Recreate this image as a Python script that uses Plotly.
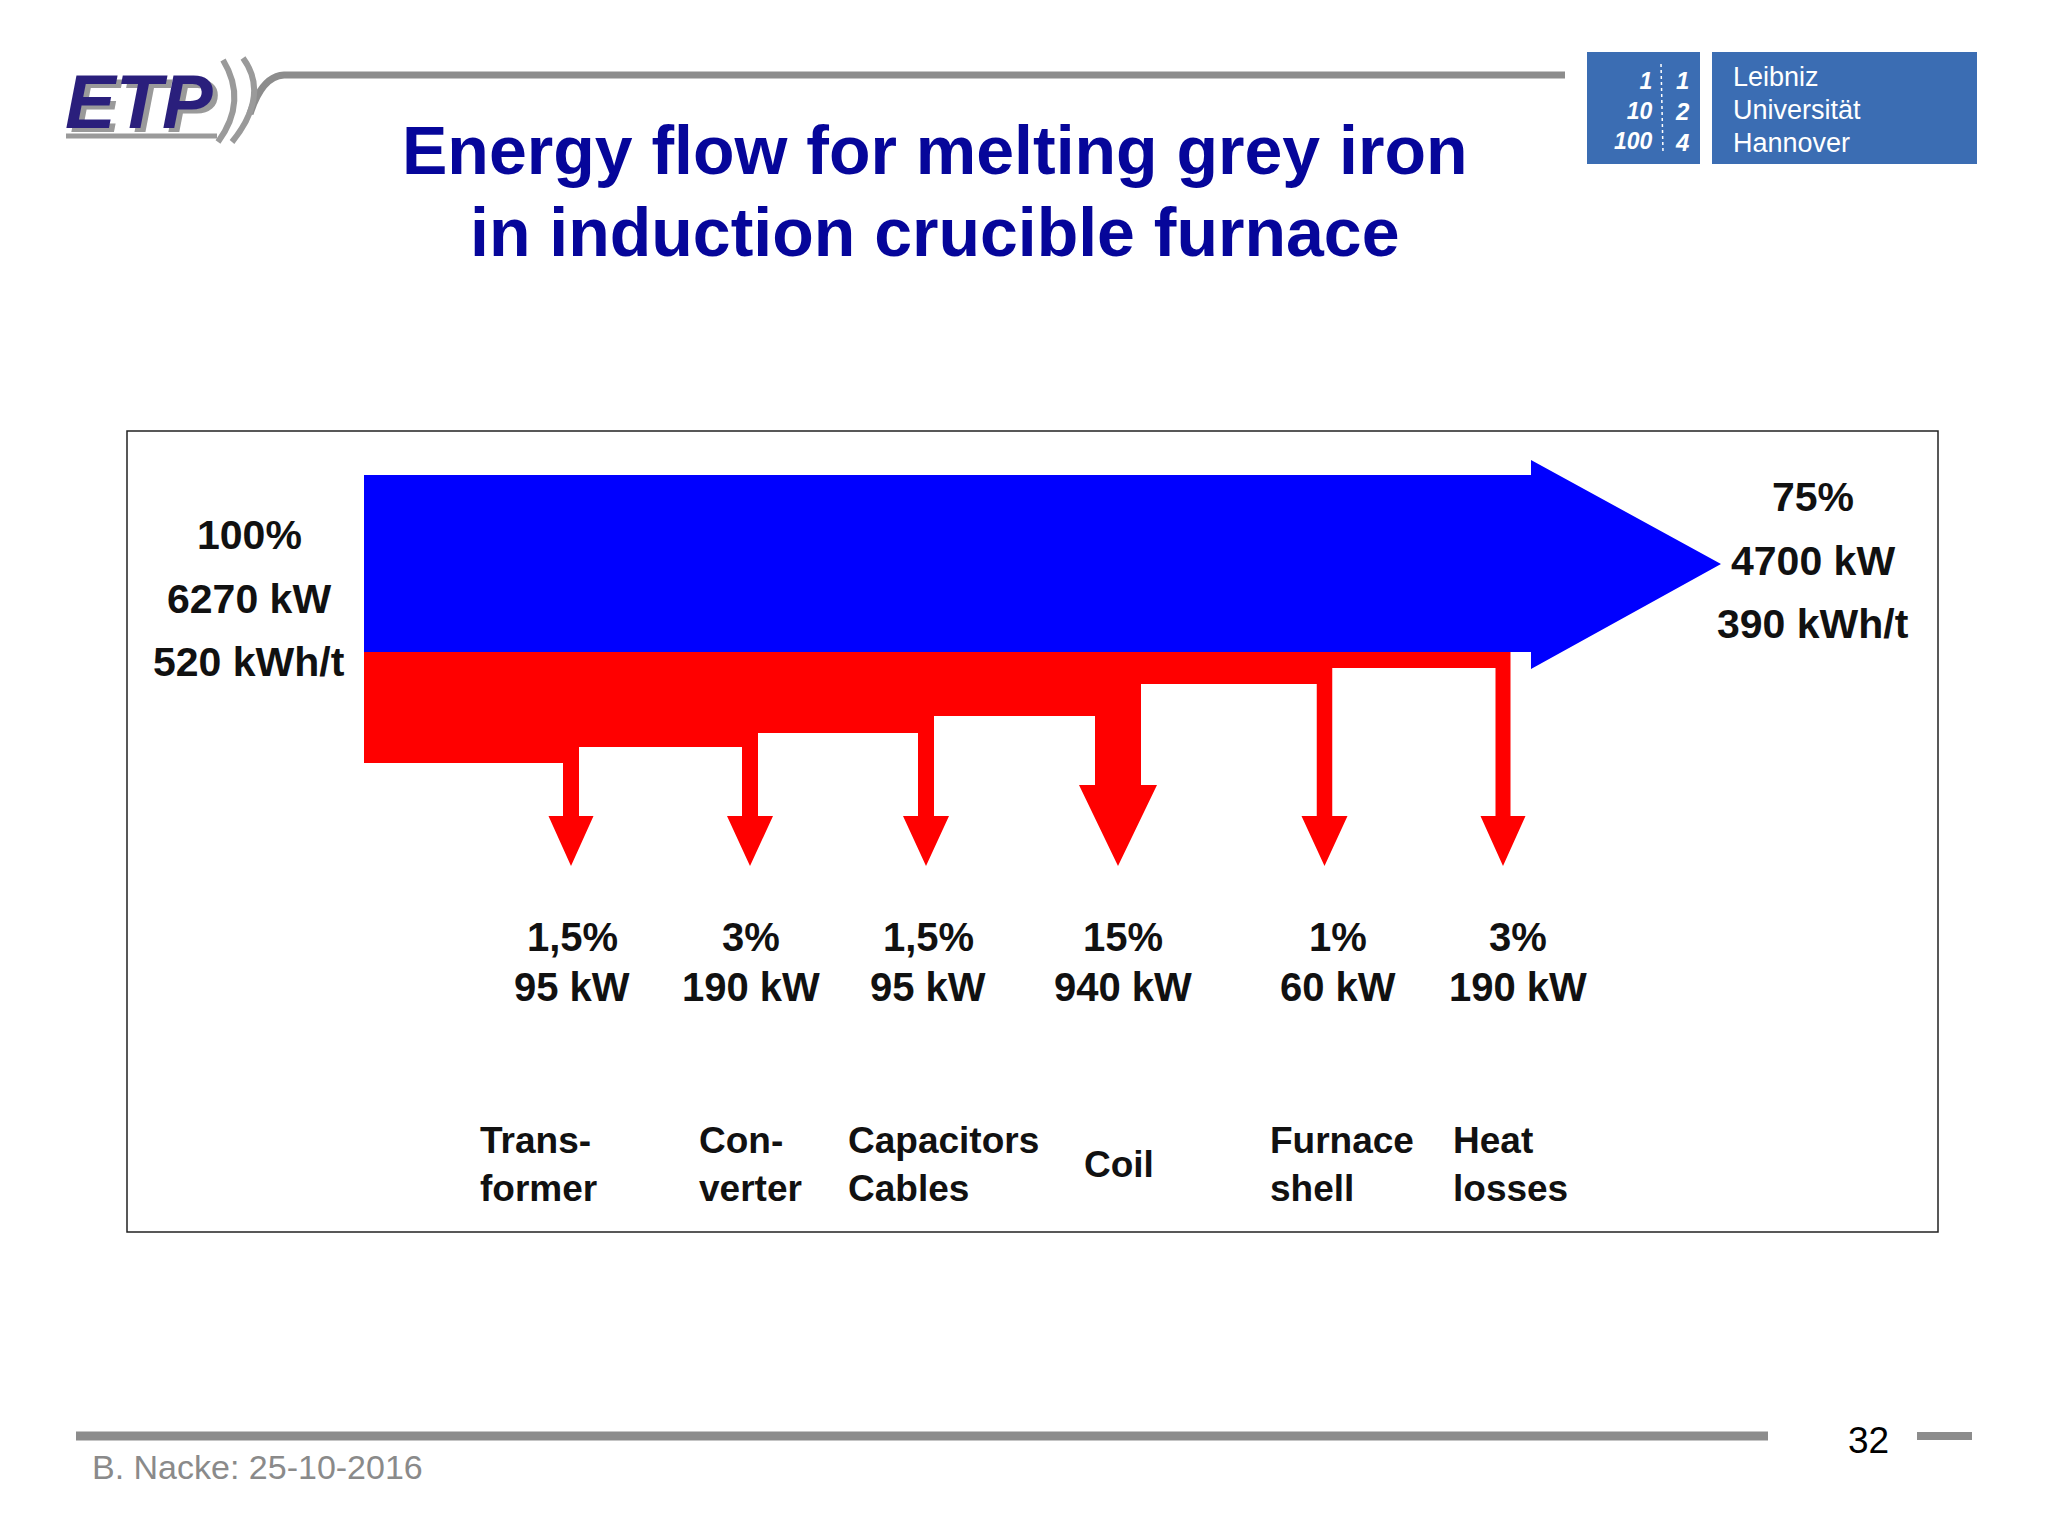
import plotly.graph_objects as go

# ---------------- data ----------------
input_pct = "100%"
input_kw = 6270
input_kwh_t = 520
output_pct = "75%"
output_kw = 4700
output_kwh_t = 390
loss_names = ["Trans-<br>former", "Con-<br>verter", "Capacitors<br>Cables", "Coil",
              "Furnace<br>shell", "Heat<br>losses"]
loss_pct = ["1,5%", "3%", "1,5%", "15%", "1%", "3%"]
loss_kw = [95, 190, 95, 940, 60, 190]
title_lines = ["Energy flow for melting grey iron", "in induction crucible furnace"]
author = "B. Nacke: 25-10-2016"
page_no = "32"

# ---------------- drawing geometry (page pixel units) ----------------
W, H = 2048, 1536
FONT = "Liberation Sans, Arial, sans-serif"
frame = (127, 431, 1938, 1232)
band_left = 364
blue_top, band_mid = 475, 652
blue_body_end, blue_head_top, blue_head_bot = 1531, 460, 669
blue_tip = (1721, 564)
shaft_center = [571, 750, 926, 1118, 1324.5, 1503]
shaft_width = [16, 16, 16, 46, 15.5, 15]
head_width = [45, 46, 46, 78, 46, 45]
head_top = [816, 816, 816, 785, 816, 816]
tip_y = 866
levels = [763, 747, 733, 716, 684, 668, 652]
pct_x = [572, 751, 928, 1123, 1338, 1518]
pct_y, kw_y = 937, 987
name_x = [478, 697, 846, 1082, 1268, 1451]
name_y = 1164

fig = go.Figure()

# blue (useful energy) arrow
bx = [band_left, blue_body_end, blue_body_end, blue_tip[0], blue_body_end, blue_body_end, band_left, band_left]
by = [blue_top, blue_top, blue_head_top, blue_tip[1], blue_head_bot, band_mid, band_mid, blue_top]
fig.add_trace(go.Scatter(x=bx, y=by, mode="lines", fill="toself", fillcolor="#0000FF",
                         line=dict(width=0, color="#0000FF"), hoverinfo="skip", showlegend=False))

# red (losses) band with branching arrows
rx = [band_left]
ry = [band_mid]
n = len(loss_kw)
for i in range(n - 1, -1, -1):
    c, w, hw, ht = shaft_center[i], shaft_width[i], head_width[i], head_top[i]
    L, R = c - w / 2, c + w / 2
    rx += [R, R, c + hw / 2, c, c - hw / 2, L, L]
    ry += [levels[i + 1], ht, ht, tip_y, ht, ht, levels[i]]
rx += [band_left, band_left]
ry += [levels[0], band_mid]
fig.add_trace(go.Scatter(x=rx, y=ry, mode="lines", fill="toself", fillcolor="#FF0000",
                         line=dict(width=0, color="#FF0000"), hoverinfo="skip", showlegend=False))

ann = []


def txt(x, y, text, size, color="#111111", xanchor="center", bold=False, italic=False,
        family=FONT, align="center", shadow=None):
    t = f"<b>{text}</b>" if bold else text
    if italic:
        t = f"<i>{t}</i>"
    font = dict(family=family, size=size, color=color)
    if shadow:
        font["shadow"] = shadow
    ann.append(dict(x=x, y=y, xref="x", yref="y", text=t, showarrow=False,
                    xanchor=xanchor, yanchor="middle", align=align, font=font))


# left / right labels
for yy, t in zip([535, 599, 662], [input_pct, f"{input_kw} kW", f"{input_kwh_t} kWh/t"]):
    txt(249, yy, t, 41, bold=True)
for yy, t in zip([497, 561, 624], [output_pct, f"{output_kw} kW", f"{output_kwh_t} kWh/t"]):
    txt(1813, yy, t, 41, bold=True)

# loss labels
for i in range(n):
    txt(pct_x[i], pct_y, loss_pct[i], 40, bold=True)
    txt(pct_x[i], kw_y, f"{loss_kw[i]} kW", 40, bold=True)
    txt(name_x[i], name_y, loss_names[i], 37, bold=True, xanchor="left", align="left")

# title
txt(934, 150, title_lines[0], 68, color="#06069A", bold=True)
txt(934, 232, title_lines[1], 68, color="#06069A", bold=True)

# footer
txt(1868, 1440, page_no, 37, color="#000000")
txt(90, 1467, author, 34, color="#8a8a8a", xanchor="left")

# ETP logo (text with grey drop shadow)
txt(63, 101, "ETP", 76, color="#2a1f7c", bold=True, italic=True, xanchor="left",
    shadow="5px 4px 0px #9a9a9a")

# Leibniz logo texts
for yy, t in zip([77, 110, 143], ["Leibniz", "Universität", "Hannover"]):
    txt(1731, yy, t, 27, color="#ffffff", xanchor="left")
txt(1655, 111, "1<br>10<br>100", 23, color="#ffffff", xanchor="right", italic=True, bold=True,
    align="right")
txt(1682, 111, "1<br>2<br>4", 24, color="#ffffff", italic=True, bold=True)

shapes = []
gray = "#8c8c8c"
# chart frame
shapes.append(dict(type="rect", xref="x", yref="y", x0=frame[0], y0=frame[1], x1=frame[2], y1=frame[3],
                   line=dict(color="#222222", width=1.5), layer="below"))
# header line with swoosh and logo brackets
shapes.append(dict(type="path", xref="x", yref="y", path="M 250 114 Q 262 76 284 75 L 1565 75",
                   line=dict(color=gray, width=7)))
shapes.append(dict(type="path", xref="x", yref="y", path="M 223 60 Q 248 101 218 142",
                   line=dict(color="#9a9a9a", width=6)))
shapes.append(dict(type="path", xref="x", yref="y", path="M 243 58 Q 270 95 232 142",
                   line=dict(color="#9a9a9a", width=6)))
shapes.append(dict(type="line", xref="x", yref="y", x0=66, y0=136, x1=217, y1=136,
                   line=dict(color="#9a9a9a", width=5)))
# footer lines
shapes.append(dict(type="line", xref="x", yref="y", x0=76, y0=1436, x1=1768, y1=1436,
                   line=dict(color=gray, width=9)))
shapes.append(dict(type="line", xref="x", yref="y", x0=1917, y0=1436, x1=1972, y1=1436,
                   line=dict(color=gray, width=8)))
# Leibniz logo boxes
shapes.append(dict(type="rect", xref="x", yref="y", x0=1587, y0=52, x1=1700, y1=164,
                   fillcolor="#3b6db3", line=dict(width=0), layer="below"))
shapes.append(dict(type="rect", xref="x", yref="y", x0=1712, y0=52, x1=1977, y1=164,
                   fillcolor="#3b6db3", line=dict(width=0), layer="below"))
shapes.append(dict(type="line", xref="x", yref="y", x0=1661, y0=64, x1=1663, y1=152,
                   line=dict(color="#ffffff", width=1.5, dash="dot")))

fig.update_layout(
    width=W, height=H, margin=dict(l=0, r=0, t=0, b=0),
    paper_bgcolor="#ffffff", plot_bgcolor="#ffffff",
    xaxis=dict(range=[0, W], visible=False, fixedrange=True),
    yaxis=dict(range=[H, 0], visible=False, fixedrange=True),
    annotations=ann, shapes=shapes, hovermode=False, showlegend=False,
)
fig.write_html("out.html")
